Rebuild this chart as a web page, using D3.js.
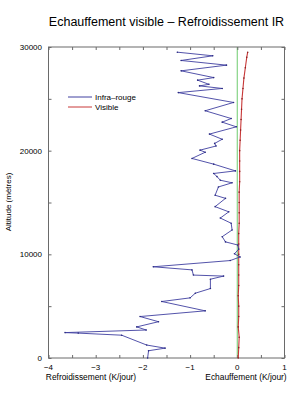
<!DOCTYPE html>
<html>
<head>
<meta charset="utf-8">
<script src="https://cdn.jsdelivr.net/npm/d3@7"></script>
<style>
  body { margin: 0; background: #fff; }
  svg { display: block; font-family: "Liberation Sans", Arial, sans-serif; }
</style>
</head>
<body>
<svg id="chart" width="299" height="400"></svg>
<script>
// infra-red cooling profile (K/jour) vs altitude (m)
const irAlt = [0, 700, 950, 1250, 2200, 2400, 2450, 2700, 3000, 3500, 4000, 4550, 5450, 5800,
  6250, 6700, 7600, 7900, 8000, 8500, 8800, 9400, 9750, 10050, 10500, 10900, 11200, 11700,
  12350, 13000, 13500, 14100, 14600, 15400, 15700, 16500, 16900, 17150, 17500, 17800, 18050,
  18700, 19250, 19850, 20050, 20450, 20700, 21100, 21600, 22300, 22750, 23100, 23850, 24650,
  25600, 26000, 26250, 26400, 26800, 27050, 27700, 28250, 28700, 29150, 29500];
const irVal = [-1.90, -1.88, -1.53, -1.92, -2.45, -3.37, -3.65, -1.93, -2.13, -1.67, -2.06, -0.68, -1.60, -1.00,
  -0.89, -0.57, -0.57, -0.29, -0.93, -0.96, -1.78, -0.15, 0.06, -0.06, 0.03, 0.01, -0.25, -0.32,
  -0.11, -0.13, -0.36, -0.18, -0.47, -0.25, -0.47, -0.40, -0.11, -0.36, -0.43, -0.50, -0.04,
  -0.50, -0.96, -0.68, -0.79, -0.45, -0.48, -0.32, -0.59, -0.02, -0.32, -0.13, -0.68, -0.08,
  -1.25, -0.32, -0.80, -0.60, -0.84, -0.50, -1.19, -0.23, -1.19, -0.52, -1.27];

// visible heating profile
const visAlt = [0, 1000, 2000, 3000, 4000, 5000, 6000, 7000, 8000, 9000, 10000, 11000, 12000,
  13000, 14000, 15000, 16000, 17000, 18000, 19000, 20000, 21000, 22000, 23000, 24000, 25000,
  26000, 27000, 28000, 29000, 29500];
const visVal = [0.02, 0.03, 0.04, 0.02, 0.03, 0.03, 0.02, 0.03, 0.03, 0.03, 0.03, 0.03, 0.03,
  0.04, 0.04, 0.04, 0.04, 0.05, 0.05, 0.05, 0.05, 0.06, 0.07, 0.08, 0.09, 0.10,
  0.12, 0.14, 0.17, 0.20, 0.22];

const xTickVals = [-4, -3, -2, -1, 0, 1],
  yTickVals = [0, 10000, 20000, 30000];

const chartTitle = "Echauffement visible \u2013 Refroidissement IR",
  legendNames = ["Infra\u2013rouge", "Visible"];

const plotL = 48.5, plotR = 284.5, plotT = 47, plotB = 358;
const blue = "#4040a0", red = "#c83838", green = "#86d486", axisCol = "#6a6a6a";

const svg = d3.select("#chart");

const x = d3.scaleLinear().domain([-4, 1]).range([plotL, plotR]);
const y = d3.scaleLinear().domain([0, 30000]).range([plotB, plotT]);

// title
svg.append("text")
  .attr("x", (plotL + plotR) / 2).attr("y", 26)
  .attr("text-anchor", "middle")
  .style("font-size", "12.5px")
  .text(chartTitle);

// zero line
svg.append("line")
  .attr("x1", x(0)).attr("x2", x(0))
  .attr("y1", y(0)).attr("y2", y(30000))
  .attr("stroke", green).attr("stroke-width", 1.2);

// axes: ticks inside, on all four sides
const minorX = d3.range(-4, 1.01, 0.5),
  minorY = d3.range(0, 30001, 5000);

svg.append("g").attr("transform", `translate(0,${plotB})`)
  .call(d3.axisTop(x).tickValues(minorX).tickSize(3).tickFormat(""));
svg.append("g").attr("transform", `translate(0,${plotT})`)
  .call(d3.axisBottom(x).tickValues(minorX).tickSize(3).tickFormat(""));
svg.append("g").attr("transform", `translate(${plotL},0)`)
  .call(d3.axisRight(y).tickValues(minorY).tickSize(3).tickFormat(""));
svg.append("g").attr("transform", `translate(${plotR},0)`)
  .call(d3.axisLeft(y).tickValues(minorY).tickSize(3).tickFormat(""));

svg.selectAll(".domain").remove();
svg.selectAll(".tick line").attr("stroke", axisCol);

svg.append("rect")
  .attr("x", plotL).attr("y", plotT)
  .attr("width", plotR - plotL).attr("height", plotB - plotT)
  .attr("fill", "none").attr("stroke", axisCol).attr("stroke-width", 1);

// tick labels
svg.append("g").selectAll("text").data(xTickVals).enter().append("text")
  .attr("x", d => x(d)).attr("y", 370)
  .attr("text-anchor", "middle")
  .style("font-size", "8px")
  .text(d => d < 0 ? "\u2212" + Math.abs(d) : d);

svg.append("g").selectAll("text").data(yTickVals).enter().append("text")
  .attr("x", 42).attr("y", d => y(d) + 3)
  .attr("text-anchor", "end")
  .style("font-size", "8px")
  .text(d => d);

// axis titles
svg.append("text").attr("x", 91).attr("y", 380)
  .attr("text-anchor", "middle").style("font-size", "8.4px")
  .text("Refroidissement (K/jour)");
svg.append("text").attr("x", 246).attr("y", 380)
  .attr("text-anchor", "middle").style("font-size", "8.4px")
  .text("Echauffement (K/jour)");
svg.append("text")
  .attr("transform", "translate(11,202) rotate(-90)")
  .attr("text-anchor", "middle").style("font-size", "8px")
  .text("Altitude (m\u00e8tres)");

// series
const line = d3.line().x(d => x(d[0])).y(d => y(d[1]));
const irData = irVal.map((v, i) => [v, irAlt[i]]),
  visData = visVal.map((v, i) => [v, visAlt[i]]);

svg.append("path").datum(visData)
  .attr("d", line).attr("fill", "none")
  .attr("stroke", red).attr("stroke-width", 1.1);
svg.append("g").selectAll("circle").data(visData).enter().append("circle")
  .attr("cx", d => x(d[0])).attr("cy", d => y(d[1])).attr("r", 0.8)
  .attr("fill", "#8a2020");

svg.append("path").datum(irData)
  .attr("d", line).attr("fill", "none")
  .attr("stroke", blue).attr("stroke-width", 0.9);
svg.append("g").selectAll("circle").data(irData).enter().append("circle")
  .attr("cx", d => x(d[0])).attr("cy", d => y(d[1])).attr("r", 0.8)
  .attr("fill", "#2a2a80");

// legend
const legend = svg.append("g");
[blue, red].forEach((c, i) => {
  legend.append("line")
    .attr("x1", 68).attr("x2", 92)
    .attr("y1", 97 + i * 10).attr("y2", 97 + i * 10)
    .attr("stroke", c).attr("stroke-width", 1);
  legend.append("text")
    .attr("x", 95).attr("y", 100 + i * 10)
    .style("font-size", "8px")
    .text(legendNames[i]);
});
</script>
</body>
</html>
